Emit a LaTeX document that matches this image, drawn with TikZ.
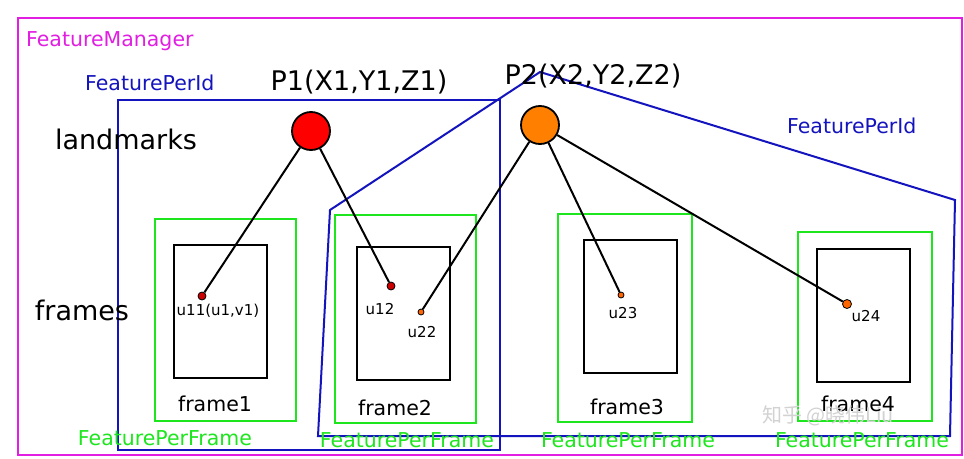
\documentclass[tikz,border=0pt]{standalone}
\usepackage{fontspec}
\setmainfont{DejaVu Sans}
\newfontfamily\cjk{Noto Sans CJK SC}
\definecolor{mag}{RGB}{225,30,225}
\definecolor{fid}{RGB}{20,20,190}
\definecolor{gr}{RGB}{30,230,30}
\begin{document}
\begin{tikzpicture}[x=1pt,y=-1pt,
  grn/.style={draw=gr,line width=2.4pt},
  blk/.style={draw=black,line width=2.2pt},
  blu/.style={draw=fid,line width=2pt},
  lbl/.style={inner sep=0pt,font=\fontsize{20.5}{21}\selectfont},
  big/.style={inner sep=0pt,font=\fontsize{27}{27}\selectfont},
  sm/.style={inner sep=0pt,font=\fontsize{15}{15}\selectfont},
  dot/.style={circle,draw=black,fill=#1,inner sep=0pt,minimum size=8pt,line width=0.8pt},
  ln/.style={draw=black,line width=2pt}]
\useasboundingbox (0,0) rectangle (964,458);
\fill[white] (0,0) rectangle (964,458);
\draw[mag,line width=2.2pt] (18,18) rectangle (962,455);
\node[lbl,text=mag,anchor=west] (fm) at (26,41) {FeatureManager};
\draw[blu] (118,100) rectangle (500,450);
\draw[blu] (318,436) -- (330,210) -- (540,72) -- (955,200) -- (950,436) -- cycle;
\node[lbl,text=fid,anchor=west] (fid1) at (85,83) {FeaturePerId};
\node[lbl,text=fid,anchor=west] (fid2) at (787,126) {FeaturePerId};
\node[big] (p1l) at (359,82) {P1(X1,Y1,Z1)};
\node[big] (p2l) at (593,76) {P2(X2,Y2,Z2)};
\node[big] (lm) at (126,139) {landmarks};
\node[big] (fr) at (82,310) {frames};
\node[circle,draw=black,fill=red,line width=1.8pt,minimum size=38pt,inner sep=0pt] (P1) at (311,131) {};
\node[circle,draw=black,fill=orange,line width=1.8pt,minimum size=38pt,inner sep=0pt] (P2) at (540,125) {};
\draw[grn] (155,219) rectangle (296,421);
\draw[grn] (335,215) rectangle (476,423);
\draw[grn] (558,214) rectangle (692,422);
\draw[grn] (798,232) rectangle (932,421);
\draw[blk] (174,245) rectangle (267,378);
\draw[blk] (357,247) rectangle (450,380);
\draw[blk] (584,240) rectangle (677,373);
\draw[blk] (817,249) rectangle (910,382);
\node[lbl] (f1) at (215,404) {frame1};
\node[lbl] (f2) at (395,408) {frame2};
\node[lbl] (f3) at (627,407) {frame3};
\node[lbl] (f4) at (858,404) {frame4};
\node[lbl,text=gr] (g1) at (165,438) {FeaturePerFrame};
\node[lbl,text=gr] (g2) at (407,440) {FeaturePerFrame};
\node[lbl,text=gr] (g3) at (628,440) {FeaturePerFrame};
\node[lbl,text=gr] (g4) at (862,440) {FeaturePerFrame};
\node[dot=red!80!black] (u11) at (202,296) {};
\node[dot=red!80!black] (u12) at (391,286) {};
\node[dot=orange!80!red,minimum size=6pt] (u22) at (421,312) {};
\node[dot=orange!80!red,minimum size=6pt] (u23) at (621,295) {};
\node[dot=orange!80!red,minimum size=9pt] (u24) at (847,304) {};
\node[sm] at (218,311) {u11(u1,v1)};
\node[sm] at (380,309) {u12};
\node[sm] at (422,332) {u22};
\node[sm] at (623,313) {u23};
\node[sm] at (866,316) {u24};
\draw[ln] (P1) -- (u11);
\draw[ln] (P1) -- (u12);
\draw[ln] (P2) -- (u22);
\draw[ln] (P2) -- (u23);
\draw[ln] (P2) -- (u24);
\node[inner sep=0pt,text=gray!35,font=\cjk\fontsize{20}{20}\selectfont] at (828,416) {知乎 @晓伟Liu};
\end{tikzpicture}
\end{document}
